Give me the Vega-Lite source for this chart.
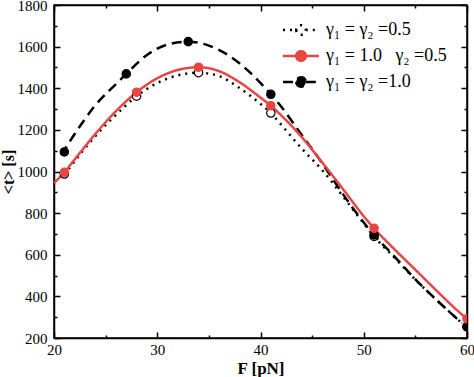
{
  "$schema": "https://vega.github.io/schema/vega-lite/v6.json",
  "width": 413,
  "height": 333,
  "autosize": {"type": "none"},
  "padding": {"left": 54, "top": 5, "right": 7, "bottom": 39},
  "background": "white",
  "config": {
    "view": {"stroke": "black", "strokeWidth": 1.5},
    "axis": {"domainColor": "black", "domainWidth": 1.5, "tickColor": "black", "tickWidth": 1.5, "labelFont": "Liberation Serif", "labelFontSize": 15, "labelColor": "black", "labelFlush": false, "format": "d", "titleFont": "Liberation Serif", "titleFontSize": 18, "titleFontWeight": "bold", "titleColor": "black", "grid": false}
  },
  "datasets": {
    "curves": [
      {"F": 21, "t": 985, "s": "a"},
      {"F": 22, "t": 1050, "s": "a"},
      {"F": 24, "t": 1170, "s": "a"},
      {"F": 26, "t": 1272, "s": "a"},
      {"F": 28, "t": 1362, "s": "a"},
      {"F": 30, "t": 1425, "s": "a"},
      {"F": 32, "t": 1462, "s": "a"},
      {"F": 34, "t": 1475, "s": "a"},
      {"F": 36, "t": 1458, "s": "a"},
      {"F": 38, "t": 1400, "s": "a"},
      {"F": 40, "t": 1325, "s": "a"},
      {"F": 41, "t": 1281, "s": "a"},
      {"F": 42, "t": 1225, "s": "a"},
      {"F": 44, "t": 1110, "s": "a"},
      {"F": 46, "t": 1005, "s": "a"},
      {"F": 48, "t": 880, "s": "a"},
      {"F": 50, "t": 750, "s": "a"},
      {"F": 51, "t": 688, "s": "a"},
      {"F": 53, "t": 585, "s": "a"},
      {"F": 55, "t": 480, "s": "a"},
      {"F": 57, "t": 385, "s": "a"},
      {"F": 59.5, "t": 272, "s": "a"},
      {"F": 20.7, "t": 1079, "s": "c"},
      {"F": 22, "t": 1180, "s": "c"},
      {"F": 24, "t": 1318, "s": "c"},
      {"F": 26, "t": 1420, "s": "c"},
      {"F": 27, "t": 1469, "s": "c"},
      {"F": 29, "t": 1560, "s": "c"},
      {"F": 31, "t": 1610, "s": "c"},
      {"F": 33, "t": 1624, "s": "c"},
      {"F": 35, "t": 1605, "s": "c"},
      {"F": 37, "t": 1555, "s": "c"},
      {"F": 39, "t": 1475, "s": "c"},
      {"F": 41, "t": 1371, "s": "c"},
      {"F": 42, "t": 1312, "s": "c"},
      {"F": 44, "t": 1175, "s": "c"},
      {"F": 46, "t": 1038, "s": "c"},
      {"F": 48, "t": 890, "s": "c"},
      {"F": 50, "t": 755, "s": "c"},
      {"F": 51, "t": 695, "s": "c"},
      {"F": 53, "t": 590, "s": "c"},
      {"F": 55, "t": 482, "s": "c"},
      {"F": 57, "t": 385, "s": "c"},
      {"F": 59.5, "t": 272, "s": "c"},
      {"F": 20, "t": 945, "s": "b"},
      {"F": 21, "t": 996, "s": "b"},
      {"F": 22, "t": 1058, "s": "b"},
      {"F": 24, "t": 1180, "s": "b"},
      {"F": 26, "t": 1290, "s": "b"},
      {"F": 28, "t": 1381, "s": "b"},
      {"F": 30, "t": 1448, "s": "b"},
      {"F": 32, "t": 1488, "s": "b"},
      {"F": 34, "t": 1501, "s": "b"},
      {"F": 36, "t": 1482, "s": "b"},
      {"F": 38, "t": 1428, "s": "b"},
      {"F": 40, "t": 1355, "s": "b"},
      {"F": 41, "t": 1316, "s": "b"},
      {"F": 42, "t": 1270, "s": "b"},
      {"F": 44, "t": 1165, "s": "b"},
      {"F": 46, "t": 1042, "s": "b"},
      {"F": 48, "t": 915, "s": "b"},
      {"F": 50, "t": 785, "s": "b"},
      {"F": 51, "t": 727, "s": "b"},
      {"F": 53, "t": 625, "s": "b"},
      {"F": 55, "t": 528, "s": "b"},
      {"F": 57, "t": 430, "s": "b"},
      {"F": 59, "t": 335, "s": "b"},
      {"F": 60, "t": 292, "s": "b"}
    ],
    "pts": [
      {"F": 21, "t": 988, "s": "a"},
      {"F": 28, "t": 1362, "s": "a"},
      {"F": 34, "t": 1475, "s": "a"},
      {"F": 41, "t": 1281, "s": "a"},
      {"F": 51, "t": 688, "s": "a"},
      {"F": 60, "t": 255, "s": "a"},
      {"F": 21, "t": 1094, "s": "c"},
      {"F": 27, "t": 1469, "s": "c"},
      {"F": 33, "t": 1624, "s": "c"},
      {"F": 41, "t": 1371, "s": "c"},
      {"F": 51, "t": 695, "s": "c"},
      {"F": 60, "t": 253, "s": "c"},
      {"F": 21, "t": 996, "s": "b"},
      {"F": 28, "t": 1381, "s": "b"},
      {"F": 34, "t": 1501, "s": "b"},
      {"F": 41, "t": 1316, "s": "b"},
      {"F": 51, "t": 727, "s": "b"},
      {"F": 60, "t": 292, "s": "b"}
    ]
  },
  "resolve": {"axis": {"x": "independent", "y": "independent"}},
  "layer": [
    {
      "data": {"name": "curves"},
      "mark": {"type": "line", "interpolate": "monotone", "strokeWidth": 2.5, "clip": true},
      "encoding": {
        "x": {"field": "F", "type": "quantitative", "scale": {"domain": [20, 60], "nice": false, "zero": false},
          "axis": {"orient": "bottom", "values": [20, 30, 40, 50, 60], "tickSize": -6, "labelPadding": 10, "title": "F [pN]", "titleFontSize": 17, "titlePadding": 3}},
        "y": {"field": "t", "type": "quantitative", "scale": {"domain": [200, 1800], "nice": false, "zero": false},
          "axis": {"orient": "left", "values": [200, 400, 600, 800, 1000, 1200, 1400, 1600, 1800], "tickSize": -6, "labelPadding": 13, "title": "<t> [s]", "titleFontSize": 16, "titlePadding": 1}},
        "color": {"field": "s", "type": "nominal", "title": null,
          "scale": {"domain": ["a", "b", "c"], "range": ["black", "#e84545", "black"]},
          "legend": {"orient": "none", "legendX": 238, "legendY": 16, "symbolType": "M-3,0L-0.8,0M0.8,0L3,0M-0.8,0A0.8,0.8 0 1,0 0.8,0A0.8,0.8 0 1,0 -0.8,0Z", "symbolSize": 144, "symbolStrokeWidth": 2.5, "labelFont": "Liberation Serif", "labelFontSize": 18, "labelColor": "black", "labelOffset": 16, "rowPadding": 6, "labelLimit": 300,
            "labelExpr": "datum.value === 'a' ? 'γ₁ = γ₂ =0.5' : datum.value === 'b' ? 'γ₁ = 1.0\u00a0\u00a0\u00a0γ₂ =0.5' : 'γ₁ = γ₂ =1.0'",
            "encode": {"symbols": {"update": {"fill": {"signal": "datum.value === 'a' ? 'white' : datum.value === 'c' ? 'black' : '#e84545'"}, "fillOpacity": {"value": 1}}}}}},
        "strokeDash": {"field": "s", "type": "nominal", "title": null,
          "scale": {"domain": ["a", "b", "c"], "range": [[2, 5], [1, 0], [10, 6]]}}
      }
    },
    {
      "data": {"name": "pts"},
      "mark": {"type": "point", "shape": "circle", "size": 70, "opacity": 1, "filled": false, "strokeWidth": 1.2, "clip": true},
      "encoding": {
        "x": {"field": "F", "type": "quantitative", "scale": {"domain": [20, 60], "nice": false, "zero": false},
          "axis": {"orient": "bottom", "values": [25, 35, 45, 55], "tickSize": -3, "labels": false, "domain": false, "title": null}},
        "y": {"field": "t", "type": "quantitative", "scale": {"domain": [200, 1800], "nice": false, "zero": false},
          "axis": {"orient": "left", "values": [300, 500, 700, 900, 1100, 1300, 1500, 1700], "tickSize": -3, "labels": false, "domain": false, "title": null}},
        "fill": {"field": "s", "type": "nominal", "legend": null,
          "scale": {"domain": ["a", "b", "c"], "range": ["white", "#e84545", "black"]}},
        "stroke": {"field": "s", "type": "nominal", "legend": null,
          "scale": {"domain": ["a", "b", "c"], "range": ["black", "#e84545", "black"]}}
      }
    },
    {
      "data": {"name": "pts"},
      "mark": {"type": "point", "opacity": 0},
      "encoding": {
        "x": {"field": "F", "type": "quantitative", "scale": {"domain": [20, 60], "nice": false, "zero": false},
          "axis": {"orient": "top", "values": [20, 30, 40, 50, 60], "tickSize": -6, "labels": false, "title": null}},
        "y": {"field": "t", "type": "quantitative", "scale": {"domain": [200, 1800], "nice": false, "zero": false},
          "axis": {"orient": "right", "values": [200, 400, 600, 800, 1000, 1200, 1400, 1600, 1800], "tickSize": -6, "labels": false, "title": null}}
      }
    },
    {
      "data": {"name": "pts"},
      "mark": {"type": "point", "opacity": 0},
      "encoding": {
        "x": {"field": "F", "type": "quantitative", "scale": {"domain": [20, 60], "nice": false, "zero": false},
          "axis": {"orient": "top", "values": [25, 35, 45, 55], "tickSize": -3, "labels": false, "domain": false, "title": null}},
        "y": {"field": "t", "type": "quantitative", "scale": {"domain": [200, 1800], "nice": false, "zero": false},
          "axis": {"orient": "right", "values": [300, 500, 700, 900, 1100, 1300, 1500, 1700], "tickSize": -3, "labels": false, "domain": false, "title": null}}
      }
    }
  ]
}
